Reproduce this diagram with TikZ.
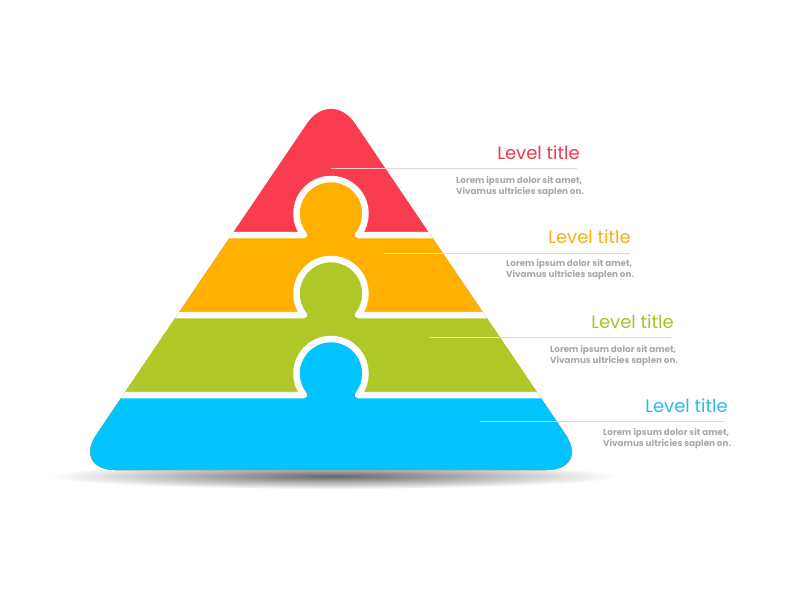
\documentclass[tikz,border=0pt]{standalone}
\usepackage{fontspec}
\setmainfont{Poppins}
\usetikzlibrary{calc}
\definecolor{cred}{HTML}{FA3C50}
\definecolor{corange}{HTML}{FFB000}
\definecolor{cgreen}{HTML}{AFC828}
\definecolor{cblue}{HTML}{00C3FF}
\definecolor{tred}{HTML}{E83A50}
\definecolor{torange}{HTML}{F7B010}
\definecolor{tgreen}{HTML}{A8C22A}
\definecolor{tblue}{HTML}{2EB8E8}
\definecolor{bodygray}{HTML}{A8A8A8}
\definecolor{linegray}{HTML}{DADADA}
\begin{document}
\begin{tikzpicture}[x=1pt,y=-1pt,
  gapline/.style={white,line width=6.5pt,line join=round},
  title/.style={font=\fontsize{18}{20}\selectfont, anchor=east, inner sep=0pt},
  body/.style={font=\fontsize{8.8}{11}\selectfont\bfseries, text=bodygray, align=left, anchor=west, inner sep=0pt},
  guide/.style={draw=linegray, line width=0.9pt},
  guidein/.style={draw=white, opacity=0.7, line width=0.9pt}]
\useasboundingbox (0,0) rectangle (800,595);
% shadow
\shade[inner color=black!60, outer color=white] (333,476) ellipse [x radius=285, y radius=13];
% guide coordinates
\coordinate (g1a) at (331,168); \coordinate (g1b) at (577,168);
\coordinate (g2a) at (384,253); \coordinate (g2b) at (630,253);
\coordinate (g3a) at (430,337); \coordinate (g3b) at (671,337);
\coordinate (g4a) at (480,421); \coordinate (g4b) at (724,421);
\foreach \i in {1,2,3,4}{\draw[guide] (g\i a) -- (g\i b);}
% pyramid
\begin{scope}
\clip[rounded corners=43pt] (331,470) -- (589.6,470) -- (331,88) -- (72.4,470) -- cycle;
\fill[cred] (0,0) rectangle (800,600);
\fill[corange] (0,235) rectangle (800,600);
\fill[corange] (331,213.5) circle [radius=34.5];
\fill[cgreen] (0,315) rectangle (800,600);
\fill[cgreen] (331,293.5) circle [radius=34.5];
\fill[cblue] (0,395) rectangle (800,600);
\fill[cblue] (331,373.5) circle [radius=34.5];
\foreach \g in {235,315,395}{
  \draw[gapline] (0,\g) -- (304.02,\g) arc[start angle=141.45, end angle=398.55, radius=34.5] -- (800,\g);
}
\foreach \i in {1,2,3,4}{\draw[guidein] (g\i a) -- (g\i b);}
\end{scope}
% texts
\node[title, text=tred] (t1) at (580,153) {Level title};
\node[title, text=torange] (t2) at (631,237) {Level title};
\node[title, text=tgreen] (t3) at (674,322) {Level title};
\node[title, text=tblue] (t4) at (728,406) {Level title};
\node[body] (b1) at (456,186.5) {Lorem ipsum dolor sit amet,\\Vivamus ultricies saplen on.};
\node[body] (b2) at (506,269.5) {Lorem ipsum dolor sit amet,\\Vivamus ultricies saplen on.};
\node[body] (b3) at (550,356) {Lorem ipsum dolor sit amet,\\Vivamus ultricies saplen on.};
\node[body] (b4) at (603,439) {Lorem ipsum dolor sit amet,\\Vivamus ultricies saplen on.};
\end{tikzpicture}
\end{document}
